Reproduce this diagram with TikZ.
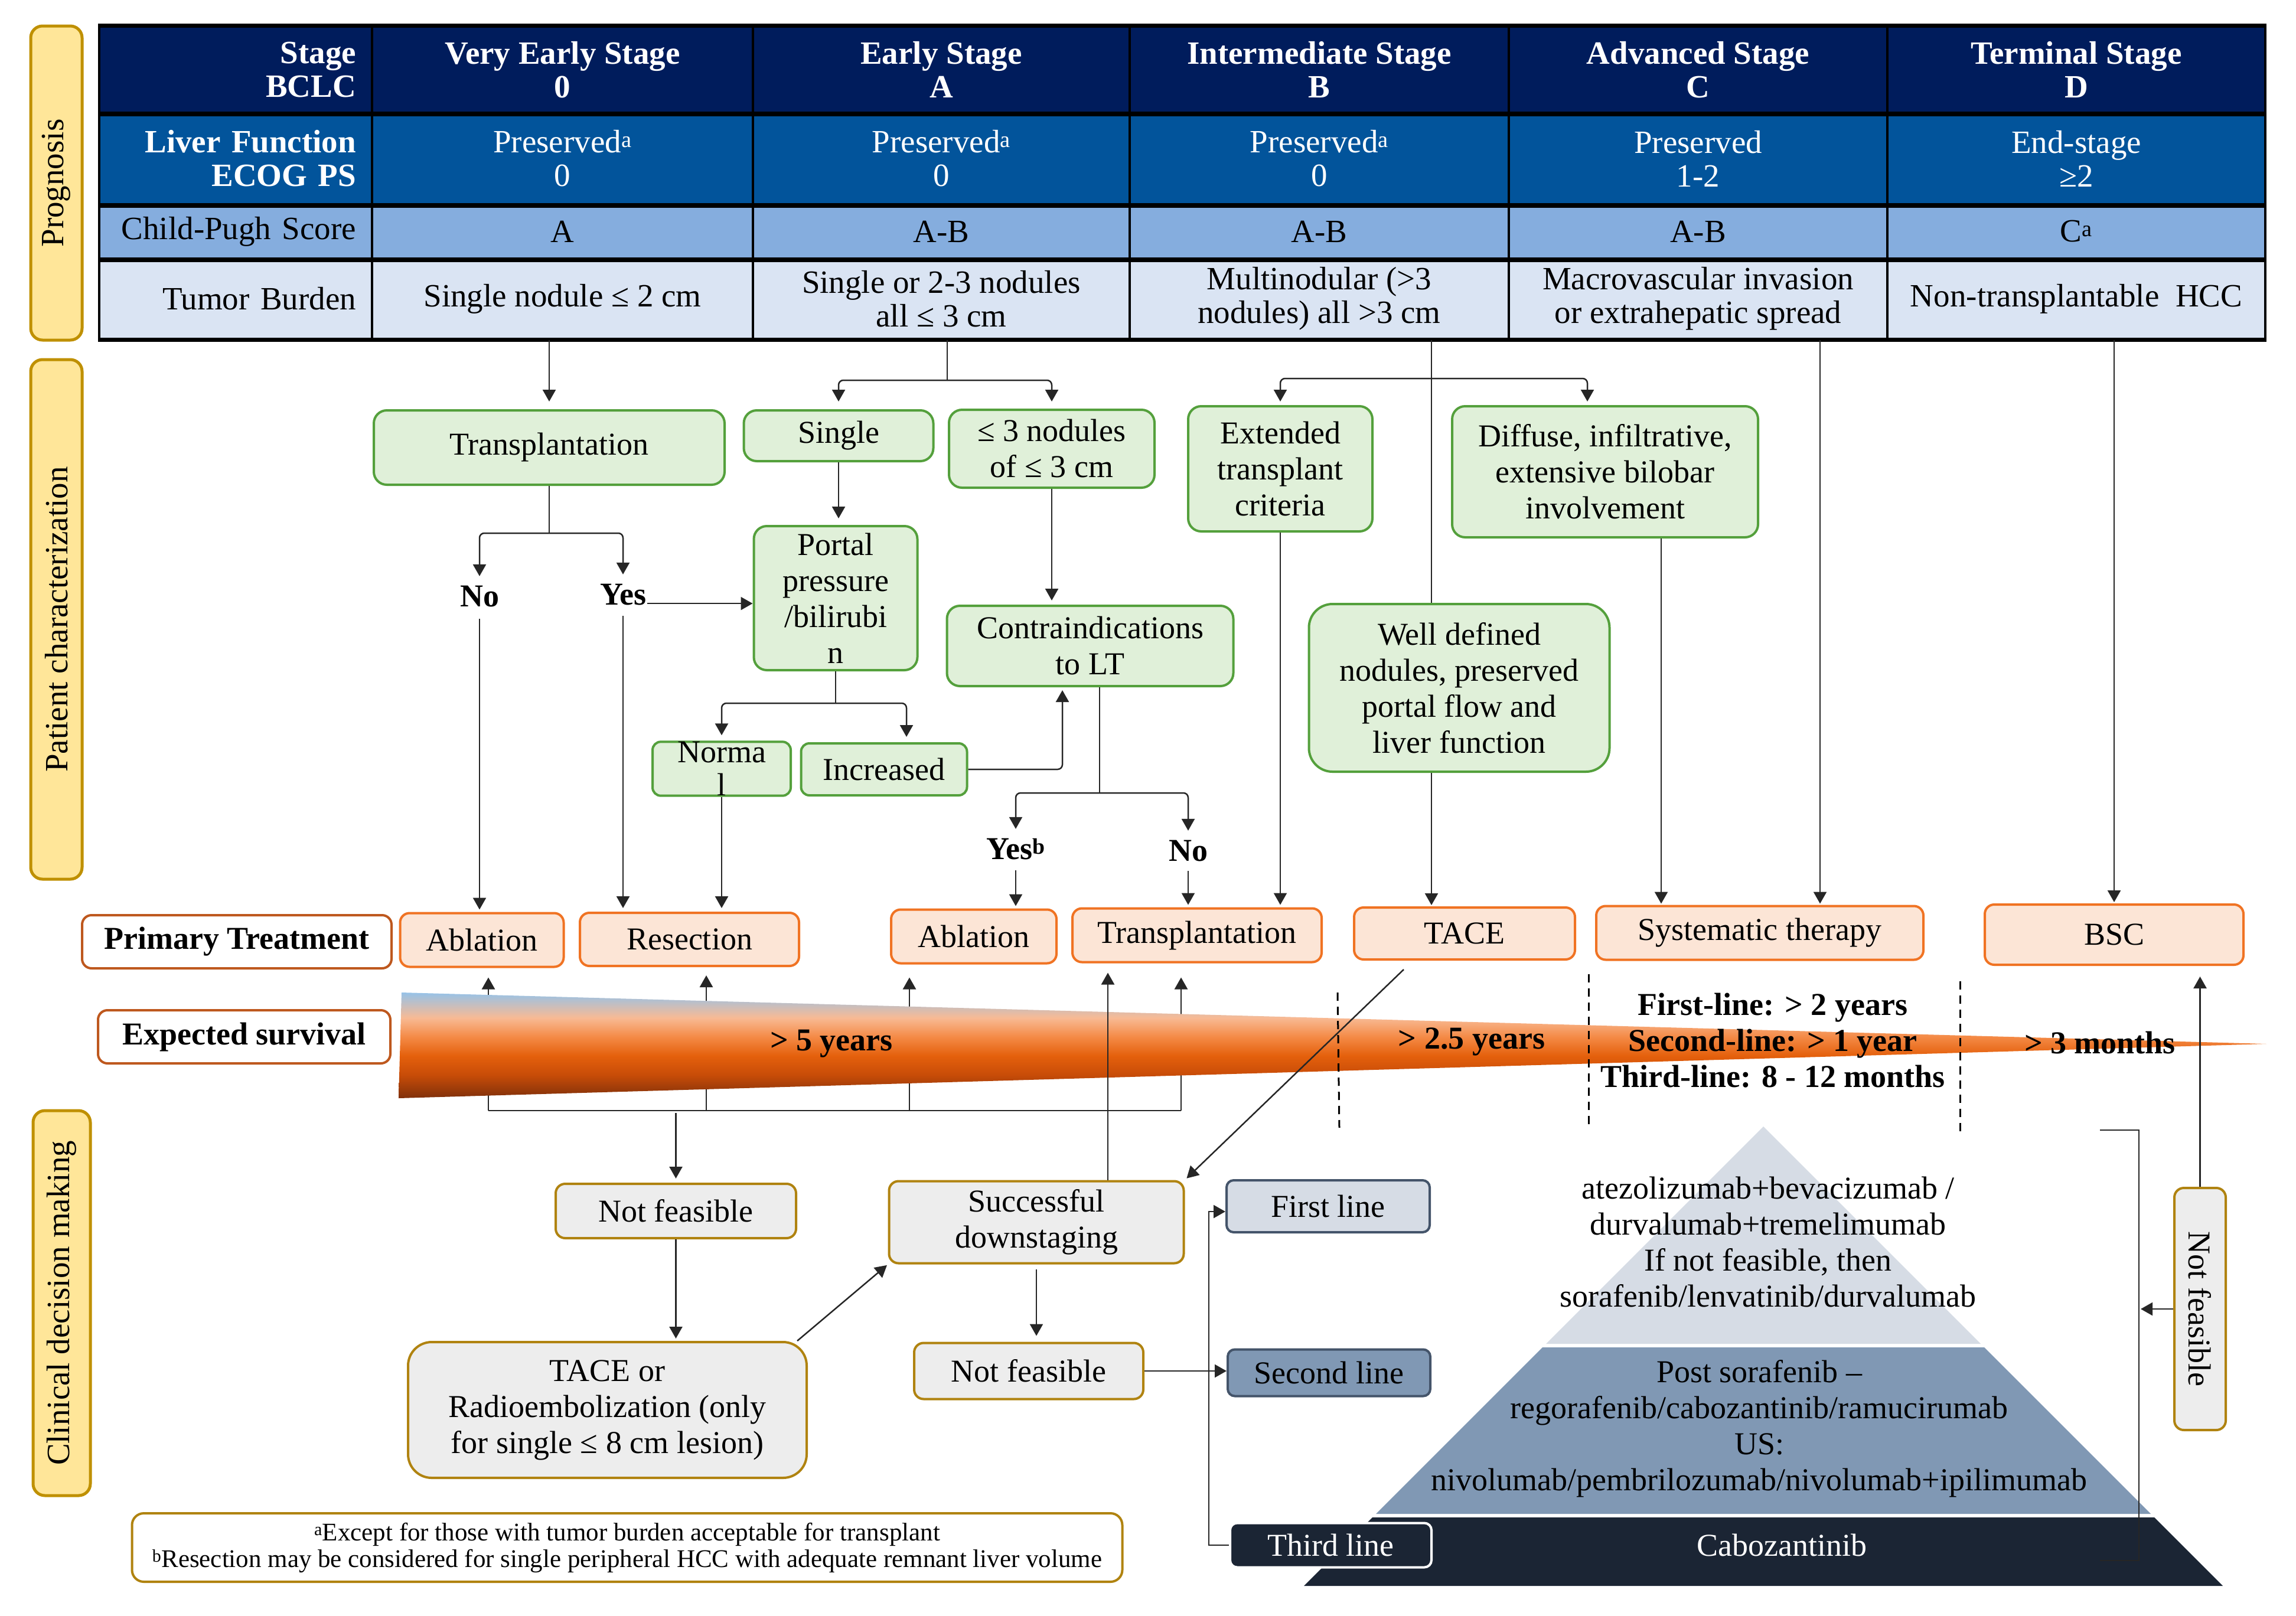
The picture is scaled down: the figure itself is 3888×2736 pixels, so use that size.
\documentclass[tikz,border=0pt]{standalone}
\usepackage{fontspec}
\setmainfont{Liberation Serif}
\usetikzlibrary{arrows.meta,calc}
\definecolor{navy}{RGB}{0,28,92}
\definecolor{midblue}{RGB}{2,84,155}
\definecolor{liteblue}{RGB}{133,173,222}
\definecolor{paleblue}{RGB}{218,228,243}
\definecolor{yelF}{RGB}{255,230,153}
\definecolor{yelB}{RGB}{191,144,0}
\definecolor{grnF}{RGB}{224,240,217}
\definecolor{grnB}{RGB}{84,160,60}
\definecolor{orgF}{RGB}{252,229,214}
\definecolor{orgB}{RGB}{240,115,35}
\definecolor{brnB}{RGB}{190,88,30}
\definecolor{gryF}{RGB}{237,237,237}
\definecolor{goldB}{RGB}{176,131,16}
\definecolor{slateB}{RGB}{68,84,106}
\definecolor{pyr1}{RGB}{214,220,229}
\definecolor{pyr2}{RGB}{128,152,180}
\definecolor{pyr3}{RGB}{27,37,52}
\definecolor{wA}{RGB}{128,48,10}
\definecolor{wB}{RGB}{200,76,8}
\definecolor{wC}{RGB}{228,96,12}
\definecolor{wD}{RGB}{244,138,70}
\definecolor{wE}{RGB}{248,186,148}
\definecolor{wF}{RGB}{150,194,232}
\pgfdeclareverticalshading{wedgeshade}{100bp}{color(0bp)=(wA); color(25bp)=(wA); color(36bp)=(wB); color(45bp)=(wC); color(54bp)=(wD); color(63bp)=(wE); color(75bp)=(wF); color(100bp)=(wF)}
\newcommand{\myfont}{\fontsize{54}{61}\selectfont}
\newcommand{\mytabfont}{\fontsize{55}{57}\selectfont}
\newcommand{\sidefont}{\fontsize{55}{60}\selectfont}
\newcommand{\footfont}{\fontsize{43}{45}\selectfont}
\tikzset{
  wh/.style 2 args={minimum width=#1pt, minimum height=#2pt},
  cell/.style={draw=black, line width=4pt, inner sep=0pt, align=center, font=\mytabfont},
  gbox/.style={draw=grnB, fill=grnF, line width=4pt, rounded corners=22pt, align=center, inner sep=0pt},
  obox/.style={draw=orgB, fill=orgF, line width=4pt, rounded corners=16pt, align=center, inner sep=0pt},
  wbox/.style={draw=brnB, fill=white, line width=4pt, rounded corners=16pt, align=center, inner sep=0pt, font=\myfont\bfseries},
  ybox/.style={draw=yelB, fill=yelF, line width=5pt, rounded corners=20pt, inner sep=0pt},
  gybox/.style={draw=goldB, fill=gryF, line width=4pt, rounded corners=16pt, align=center, inner sep=0pt},
  lnbox/.style={draw=slateB, line width=4pt, rounded corners=12pt, align=center, inner sep=0pt},
  lbl/.style={font=\myfont\bfseries, inner sep=2pt, align=center},
  ptext/.style={align=center, inner sep=0pt},
  conn/.style={line width=2.5pt, draw=black!85},
  arr/.style={conn, -{Triangle[length=20pt,width=22pt]}, shorten >=6pt},
  rc/.style={rounded corners=8pt},
  dashln/.style={line width=3pt, dash pattern=on 14pt off 10pt}
}
\begin{document}
\begin{tikzpicture}[x=1pt,y=-1pt,font=\myfont]
\useasboundingbox (0,0) rectangle (3888,2736);
\fill[white] (0,0) rectangle (3888,2736);

% side labels
\node[ybox, wh={87}{532}] (prog) at (95.5,310) {\rotatebox{90}{\sidefont Prognosis}};
\node[ybox, wh={87}{880}] (pat) at (95.5,1049) {\rotatebox{90}{\sidefont Patient characterization}};
\node[ybox, wh={97}{652}] (clin) at (104.5,2207) {\rotatebox{90}{\sidefont Clinical decision making}};

% table row 1
\node[cell, fill=navy, text=white, font=\mytabfont\bfseries, wh={462}{146}, text width=408pt, align=right] (s0) at (399,118) {Stage\\BCLC};
\node[cell, fill=navy, text=white, font=\mytabfont\bfseries, wh={645}{146}] (s1) at (952.5,118) {Very Early Stage\\0};
\node[cell, fill=navy, text=white, font=\mytabfont\bfseries, wh={638}{146}] (s2) at (1594,118) {Early Stage\\A};
\node[cell, fill=navy, text=white, font=\mytabfont\bfseries, wh={642}{146}] (s3) at (2234,118) {Intermediate Stage\\B};
\node[cell, fill=navy, text=white, font=\mytabfont\bfseries, wh={641}{146}] (s4) at (2875.5,118) {Advanced Stage\\C};
\node[cell, fill=navy, text=white, font=\mytabfont\bfseries, wh={640}{146}] (s5) at (3516,118) {Terminal Stage\\D};
% row 2
\node[cell, fill=midblue, text=white, font=\mytabfont\bfseries, wh={462}{155}, text width=408pt, align=right] (f0) at (399,268.5) {Liver Function\\ECOG PS};
\node[cell, fill=midblue, text=white, wh={645}{155}] (f1) at (952.5,268.5) {Preserved\textsuperscript{a}\\0};
\node[cell, fill=midblue, text=white, wh={638}{155}] (f2) at (1594,268.5) {Preserved\textsuperscript{a}\\0};
\node[cell, fill=midblue, text=white, wh={642}{155}] (f3) at (2234,268.5) {Preserved\textsuperscript{a}\\0};
\node[cell, fill=midblue, text=white, wh={641}{155}] (f4) at (2875.5,268.5) {Preserved\\1-2};
\node[cell, fill=midblue, text=white, wh={640}{155}] (f5) at (3516,268.5) {End-stage\\≥2};
% row 3
\node[cell, fill=liteblue, wh={462}{92}, text width=408pt, align=right] (c0) at (399,392) {Child-Pugh Score};
\node[cell, fill=liteblue, wh={645}{92}] (c1) at (952.5,392) {A};
\node[cell, fill=liteblue, wh={638}{92}] (c2) at (1594,392) {A-B};
\node[cell, fill=liteblue, wh={642}{92}] (c3) at (2234,392) {A-B};
\node[cell, fill=liteblue, wh={641}{92}] (c4) at (2875.5,392) {A-B};
\node[cell, fill=liteblue, wh={640}{92}] (c5) at (3516,392) {C\textsuperscript{a}};
% row 4
\node[cell, fill=paleblue, wh={462}{136}, text width=408pt, align=right] (t0) at (399,506) {Tumor Burden};
\node[cell, fill=paleblue, wh={645}{136}] (t1) at (952.5,506) {Single nodule ≤ 2 cm};
\node[cell, fill=paleblue, wh={638}{136}] (t2) at (1594,506) {Single or 2-3 nodules\\all ≤ 3 cm};
\node[cell, fill=paleblue, wh={642}{136}] (t3) at (2234,506) {Multinodular (>3\\nodules) all >3 cm};
\node[cell, fill=paleblue, wh={641}{136}] (t4) at (2875.5,506) {Macrovascular invasion\\or extrahepatic spread};
\node[cell, fill=paleblue, wh={640}{136}] (t5) at (3516,506) {Non-transplantable\ \ HCC};
\draw[line width=7pt] (s0.south west) -- (s5.south east);
\draw[line width=7pt] (f0.south west) -- (f5.south east);
\draw[line width=7pt] (c0.south west) -- (c5.south east);
\draw[line width=6pt] (t0.south west) -- (t5.south east);
\draw[line width=6pt] (s0.north west) -- (s5.north east);

% green boxes
\node[gbox, wh={594}{126}] (tx1) at (930,758) {Transplantation};
\node[gbox, wh={321}{86}] (single) at (1420,738) {Single};
\node[gbox, wh={348}{132}] (nod) at (1781,760) {≤ 3 nodules\\of ≤ 3 cm};
\node[gbox, wh={277}{244}] (portal) at (1415,1013) {Portal\\pressure\\/bilirubi\\n};
\node[gbox, wh={485}{136}] (contra) at (1846,1094) {Contraindications\\to LT};
\node[gbox, wh={234}{86}, rounded corners=14pt, font=\fontsize{54}{56}\selectfont] (normal) at (1222,1302) {Norma\\l};
\node[gbox, wh={281}{88}, rounded corners=14pt] (incr) at (1497,1303) {Increased};
\node[gbox, wh={312}{212}] (ext) at (2168,794) {Extended\\transplant\\criteria};
\node[gbox, wh={518}{222}] (diff) at (2718,799) {Diffuse, infiltrative,\\extensive bilobar\\involvement};
\node[gbox, wh={509}{284}, rounded corners=40pt] (well) at (2471,1165) {Well defined\\nodules, preserved\\portal flow and\\liver function};

% decision labels
\node[lbl] (no1) at (812,1010) {No};
\node[lbl] (yes1) at (1055,1007) {Yes};
\node[lbl] (yesb) at (1720,1438) {Yes\textsuperscript{b}};
\node[lbl] (no2) at (2012,1441) {No};

% orange boxes
\node[obox, wh={277}{91}] (abl1) at (816,1592) {Ablation};
\node[obox, wh={371}{90}] (res) at (1167.5,1591) {Resection};
\node[obox, wh={280}{91}] (abl2) at (1649,1586) {Ablation};
\node[obox, wh={422}{91}] (tx2) at (2027,1584) {Transplantation};
\node[obox, wh={374}{88}] (tace) at (2480,1581) {TACE};
\node[obox, wh={554}{91}] (sys) at (2980,1580) {Systematic therapy};
\node[obox, wh={438}{102}] (bsc) at (3580,1583) {BSC};

% left row labels
\node[wbox, wh={524}{90}] (primary) at (401,1595) {Primary Treatment};
\node[wbox, wh={495}{90}] (expected) at (413.5,1756) {Expected survival};

% coordinates
\coordinate (b2) at (1604,644);
\coordinate (c3x) at (2424,0);
\coordinate (b3) at (2424,641);
\coordinate (dx) at (2688,0);
\coordinate (c4x) at (3082,0);
\coordinate (c5x) at (3580,0);
\coordinate (j1) at (933,903);
\coordinate (j2) at (1412,1191);
\coordinate (incx) at (1535,0);
\coordinate (cx) at (1799,0);
\coordinate (j3) at (1862,1343);
\coordinate (dsx) at (2813,0);
\coordinate (u1) at (827,1881);
\coordinate (u2) at (1196,1881);
\coordinate (u3) at (1540,1881);
\coordinate (u4) at (2000,1881);
\coordinate (sx) at (1876,0);
\coordinate (bx) at (2047,0);
\coordinate (fl) at (0,2052);
\coordinate (rbx) at (3625,0);

% connectors (top part)
\draw[arr, shorten >=13pt] (tx1.north |- t1.south) -- (tx1.north);
\draw[conn] (b2 |- t2.south) -- (b2);
\draw[arr, rc, shorten >=13pt] (b2) -| (single.north);
\draw[arr, rc, shorten >=12pt] (b2) -| (nod.north);
\draw[conn] (c3x |- t3.south) -- (c3x |- well.north);
\draw[arr, shorten >=2pt] (c3x |- well.south) -- (c3x |- tace.north);
\draw[arr, rc] (b3) -| (ext.north);
\draw[arr, rc] (b3) -| (dx |- diff.north);
\draw[arr, shorten >=2pt] (c4x |- t4.south) -- (c4x |- sys.north);
\draw[arr, shorten >=2pt] (c5x |- t5.south) -- (c5x |- bsc.north);
\draw[conn] (tx1.south) -- (tx1.south |- j1);
\draw[arr, rc, shorten >=14pt] (tx1.south |- j1) -| (no1.north);
\draw[arr, rc, shorten >=14pt] (tx1.south |- j1) -| (yes1.north);
\draw[arr, shorten >=0pt] (yes1.mid east) -- (yes1.mid east -| portal.west);
\draw[arr, shorten <=18pt, shorten >=4pt] (no1.south) -- (no1.south |- abl1.north);
\draw[arr, shorten <=16pt, shorten >=6pt] (yes1.south) -- (yes1.south |- res.north);
\draw[arr, shorten >=11pt] (single.south) -- (single.south |- portal.north);
\draw[arr, shorten >=7pt] (nod.south) -- (nod.south |- contra.north);
\draw[conn] (portal.south) -- (portal.south |- j2);
\draw[arr, rc, shorten >=9pt] (portal.south |- j2) -| (normal.north);
\draw[arr, rc, shorten >=9pt] (portal.south |- j2) -| (incx |- incr.north);
\draw[arr, shorten >=6pt] (normal.south) -- (normal.south |- res.north);
\draw[arr, rc, shorten >=5pt] (incr.east) -| (cx |- contra.south);
\draw[conn] (j3 |- contra.south) -- (j3);
\draw[arr, rc, shorten >=14pt] (j3) -| (yesb.north);
\draw[arr, rc, shorten >=14pt] (j3) -| (no2.north);
\draw[arr, shorten <=16pt, shorten >=4pt] (yesb.south) -- (yesb.south |- abl2.north);
\draw[arr, shorten <=14pt, shorten >=4pt] (no2.south) -- (no2.south |- tx2.north);
\draw[arr, shorten >=4pt] (ext.south) -- (ext.south |- tx2.north);
\draw[arr, shorten >=2pt] (dsx |- diff.south) -- (dsx |- sys.north);

% gray decision boxes
\node[gybox, wh={407}{92}] (nf1) at (1144.5,2051) {Not feasible};
\node[gybox, wh={675}{230}, rounded corners=40pt] (tacer) at (1028.5,2388) {TACE or\\Radioembolization (only\\for single ≤ 8 cm lesion)};
\node[gybox, wh={499}{139}] (succ) at (1755,2070) {Successful\\downstaging};
\node[gybox, wh={388}{95}] (nf2) at (1742,2322) {Not feasible};
\node[gybox, wh={87}{410}] (nf3) at (3725.5,2217) {\rotatebox{-90}{Not feasible}};

% line boxes
\node[lnbox, fill=pyr1, wh={344}{88}] (first) at (2249,2043) {First line};
\node[lnbox, fill=pyr2, wh={343}{79}] (second) at (2250.5,2325) {Second line};

% bracket under survival wedge (behind wedge)
\draw[conn] (u1) -- (u4);
\draw[arr, shorten >=16pt] (u1) -- (u1 |- abl1.south);
\draw[arr, shorten >=14pt] (u2) -- (u2 |- res.south);
\draw[arr, shorten >=22pt] (u3) -- (u3 |- abl2.south);
\draw[arr, shorten >=24pt] (u4) -- (u4 |- tx2.south);
\draw[arr, shorten <=4pt, shorten >=7pt] (nf1.north |- u1) -- (nf1.north);

% survival wedge
\shade[shading=wedgeshade] (680,1681) -- (3838,1768) -- (675,1860) -- cycle;
\node[lbl] (y5) at (1408,1768) {> 5 years};
\node[lbl] (y25) at (2492,1764) {> 2.5 years};
\node[lbl] (m3) at (3556,1766) {> 3 months};
\node[lbl] (surv) at (3002,1762) {First-line: > 2 years\\Second-line: > 1 year\\Third-line: 8 - 12 months};
\draw[dashln] (2265,1681) -- (2268,1910);
\draw[dashln] (2690,1650) -- (2690,1910);
\draw[dashln] (3319,1662) -- (3319,1922);

% pyramid
\fill[pyr1] (2986,1908) -- (3354,2276) -- (2618,2276) -- cycle;
\fill[pyr2] (2612,2282) -- (3360,2282) -- (3642,2564) -- (2330,2564) -- cycle;
\fill[pyr3] (2324,2570) -- (3648,2570) -- (3764,2686) -- (2208,2686) -- cycle;
\node[ptext] (p1) at (2994,2103) {atezolizumab+bevacizumab /\\durvalumab+tremelimumab\\If not feasible, then\\sorafenib/lenvatinib/durvalumab};
\node[ptext] (p2) at (2979,2420) {Post sorafenib –\\regorafenib/cabozantinib/ramucirumab\\US:\\nivolumab/pembrilozumab/nivolumab+ipilimumab};
\node[ptext, text=white] (p3) at (3017,2617) {Cabozantinib};
\node[lnbox, draw=white, fill=pyr3, text=white, wh={341}{75}] (third) at (2253.5,2617) {Third line};

% lower connectors
\draw[arr, shorten >=16pt] (sx |- succ.north) -- (sx |- tx2.south);
\draw[arr, shorten >=4pt] ($(tace.south)+(-103,15)$) -- (succ.north east);
\draw[arr, shorten >=4pt] (nf1.south) -- (nf1.south |- tacer.north);
\draw[arr, shorten >=2pt] (tacer.20) -- (succ.south west);
\draw[arr, shorten <=8pt, shorten >=10pt] (succ.south) -- (succ.south |- nf2.north);
\draw[arr, shorten >=0pt] (nf2.east) -- (nf2.east -| second.west);
\draw[arr, shorten >=0pt] (third.west) -- (bx |- third.west) -- (bx |- fl) -- (fl -| first.west);
\draw[conn] (3556,1914) -- (3622,1914) -- (3622,2643) -- (3556,2643);
\draw[arr, shorten >=0pt] (nf3.west) -- (nf3.west -| rbx);
\draw[arr, shorten >=18pt] (nf3.north) -- (nf3.north |- bsc.south);

% footnote
\node[gybox, fill=white, wh={1677}{116}, rounded corners=20pt, font=\footfont] (foot) at (1062,2621) {\textsuperscript{a}Except for those with tumor burden acceptable for transplant\\\textsuperscript{b}Resection may be considered for single peripheral HCC with adequate remnant liver volume};
\end{tikzpicture}
\end{document}
